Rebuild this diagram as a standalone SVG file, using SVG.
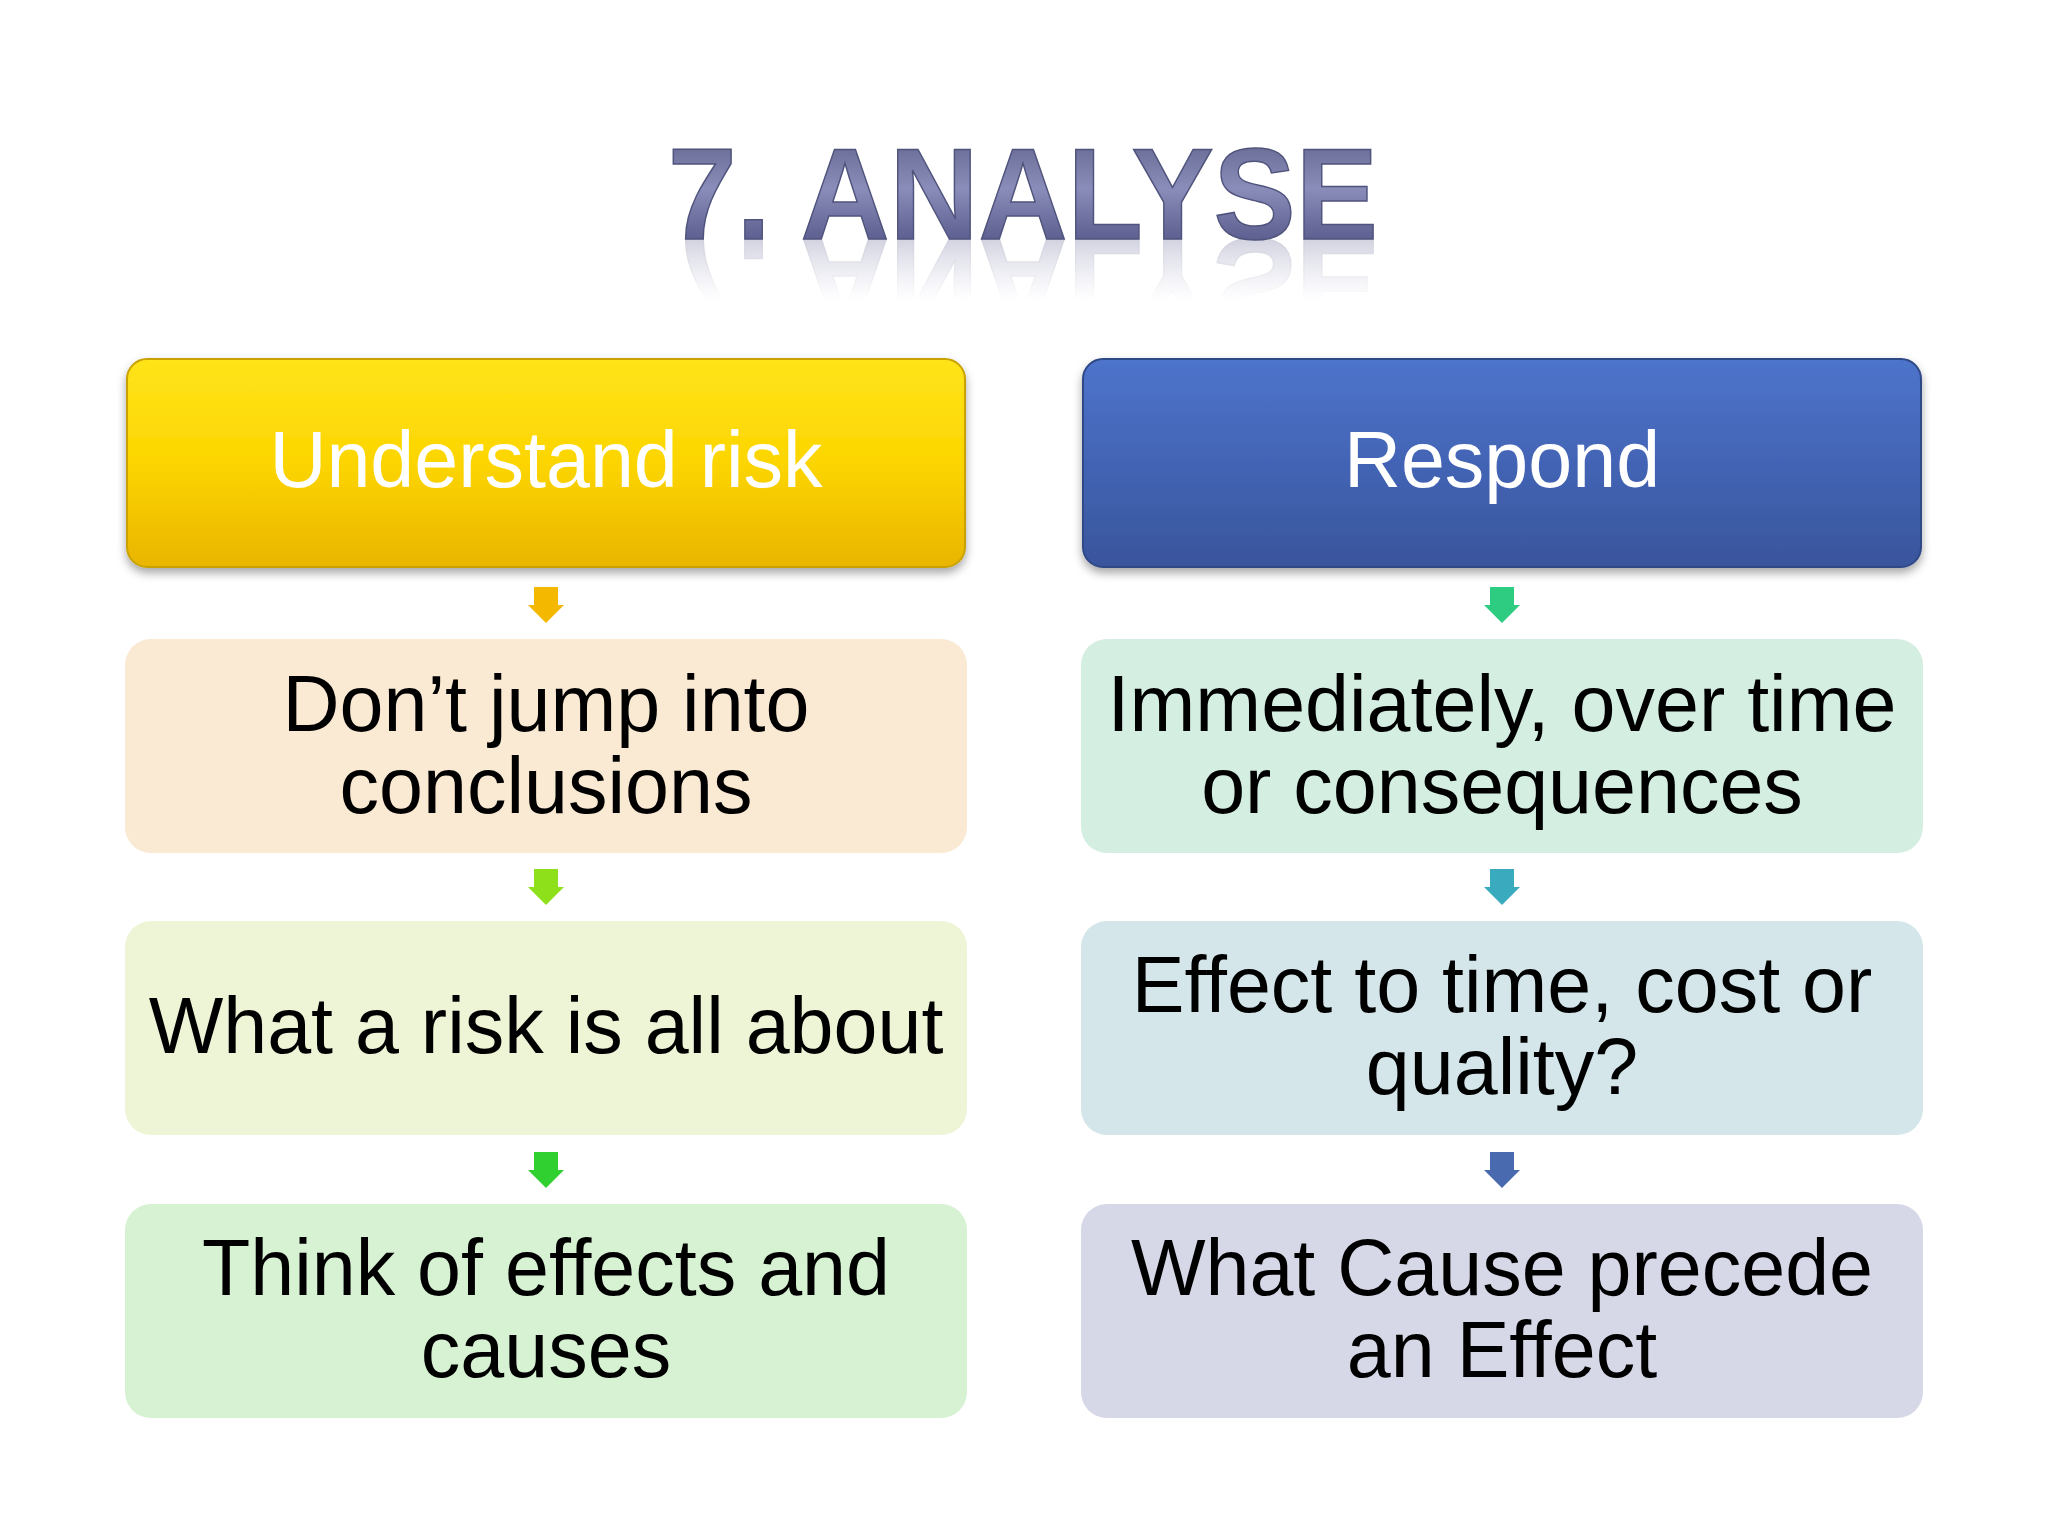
<svg xmlns="http://www.w3.org/2000/svg" width="2048" height="1536" viewBox="0 0 2048 1536">
  <style>
    .title { font-family: "Liberation Sans", Arial, sans-serif; font-weight: bold; font-size: 129px; }
    .head { font-family: "Liberation Sans", Arial, sans-serif; font-size: 79px; fill: #ffffff; text-anchor: middle; }
    .body { font-family: "Liberation Sans", Arial, sans-serif; font-size: 79px; fill: #000000; text-anchor: middle; }
  </style>
  <defs>
    <linearGradient id="titleGrad" x1="0" y1="147" x2="0" y2="239" gradientUnits="userSpaceOnUse">
      <stop offset="0" stop-color="#6c6f98"/>
      <stop offset="0.45" stop-color="#8a8db9"/>
      <stop offset="1" stop-color="#5d6090"/>
    </linearGradient>
    <linearGradient id="fadeGrad" x1="0" y1="239" x2="0" y2="300" gradientUnits="userSpaceOnUse">
      <stop offset="0" stop-color="#ffffff" stop-opacity="0.35"/>
      <stop offset="1" stop-color="#ffffff" stop-opacity="0"/>
    </linearGradient>
    <mask id="fadeMask" maskUnits="userSpaceOnUse" x="0" y="239" width="2048" height="70">
      <rect x="0" y="239" width="2048" height="70" fill="url(#fadeGrad)"/>
    </mask>
    <linearGradient id="yellowGrad" x1="0" y1="0" x2="0" y2="1">
      <stop offset="0" stop-color="#ffe41a"/>
      <stop offset="0.5" stop-color="#fcd500"/>
      <stop offset="1" stop-color="#e9b500"/>
    </linearGradient>
    <linearGradient id="blueGrad" x1="0" y1="0" x2="0" y2="1">
      <stop offset="0" stop-color="#4d74cb"/>
      <stop offset="0.5" stop-color="#4364b5"/>
      <stop offset="1" stop-color="#39559c"/>
    </linearGradient>
    <filter id="shadow" x="-5%" y="-10%" width="110%" height="130%">
      <feDropShadow dx="0" dy="5" stdDeviation="5" flood-color="#000000" flood-opacity="0.35"/>
    </filter>
    <polygon id="arrow" points="-12,0 12,0 12,18 18,18 0,36 -18,18 -12,18"/>
  </defs>

  <rect x="0" y="0" width="2048" height="1536" fill="#ffffff"/>

  <g id="title">
    <g mask="url(#fadeMask)">
      <use href="#titleText" transform="translate(0,478) scale(1,-1)" opacity="0.8"/>
    </g>
    <text id="titleText" class="title" x="668" y="239" textLength="710" lengthAdjust="spacingAndGlyphs" fill="url(#titleGrad)" stroke="#50547c" stroke-width="1.5">7. ANALYSE</text>
  </g>

  <g id="understand-risk">
    <rect x="127" y="359" width="838" height="208" rx="20" fill="url(#yellowGrad)" stroke="#c9a200" stroke-width="2" filter="url(#shadow)"/>
    <text class="head" x="546" y="487">Understand risk</text>
  </g>

  <g id="respond">
    <rect x="1083" y="359" width="838" height="208" rx="20" fill="url(#blueGrad)" stroke="#2f4886" stroke-width="2" filter="url(#shadow)"/>
    <text class="head" x="1502" y="487">Respond</text>
  </g>

  <g id="dont-jump">
    <rect x="125" y="639" width="842" height="214" rx="26" fill="#fae9d3"/>
    <text class="body" x="546" y="731">Don’t jump into</text>
    <text class="body" x="546" y="813">conclusions</text>
  </g>

  <g id="what-a-risk">
    <rect x="125" y="921" width="842" height="214" rx="26" fill="#eef5d6"/>
    <text class="body" x="546" y="1053">What a risk is all about</text>
  </g>

  <g id="think-of-effects">
    <rect x="125" y="1204" width="842" height="214" rx="26" fill="#d7f1d3"/>
    <text class="body" x="546" y="1295">Think of effects and</text>
    <text class="body" x="546" y="1377">causes</text>
  </g>

  <g id="immediately">
    <rect x="1081" y="639" width="842" height="214" rx="26" fill="#d4eee2"/>
    <text class="body" x="1502" y="731">Immediately, over time</text>
    <text class="body" x="1502" y="813">or consequences</text>
  </g>

  <g id="effect-to-time">
    <rect x="1081" y="921" width="842" height="214" rx="26" fill="#d4e6ea"/>
    <text class="body" x="1502" y="1012">Effect to time, cost or</text>
    <text class="body" x="1502" y="1094">quality?</text>
  </g>

  <g id="what-cause">
    <rect x="1081" y="1204" width="842" height="214" rx="26" fill="#d6d8e8"/>
    <text class="body" x="1502" y="1295">What Cause precede</text>
    <text class="body" x="1502" y="1377">an Effect</text>
  </g>

  <g id="connectors">
    <use href="#arrow" transform="translate(546,587)" fill="#f5b800"/>
    <use href="#arrow" transform="translate(546,869)" fill="#8ee01a"/>
    <use href="#arrow" transform="translate(546,1152)" fill="#2fd02f"/>
    <use href="#arrow" transform="translate(1502,587)" fill="#2ecc80"/>
    <use href="#arrow" transform="translate(1502,869)" fill="#3aabbf"/>
    <use href="#arrow" transform="translate(1502,1152)" fill="#4a6ab0"/>
  </g>
</svg>
